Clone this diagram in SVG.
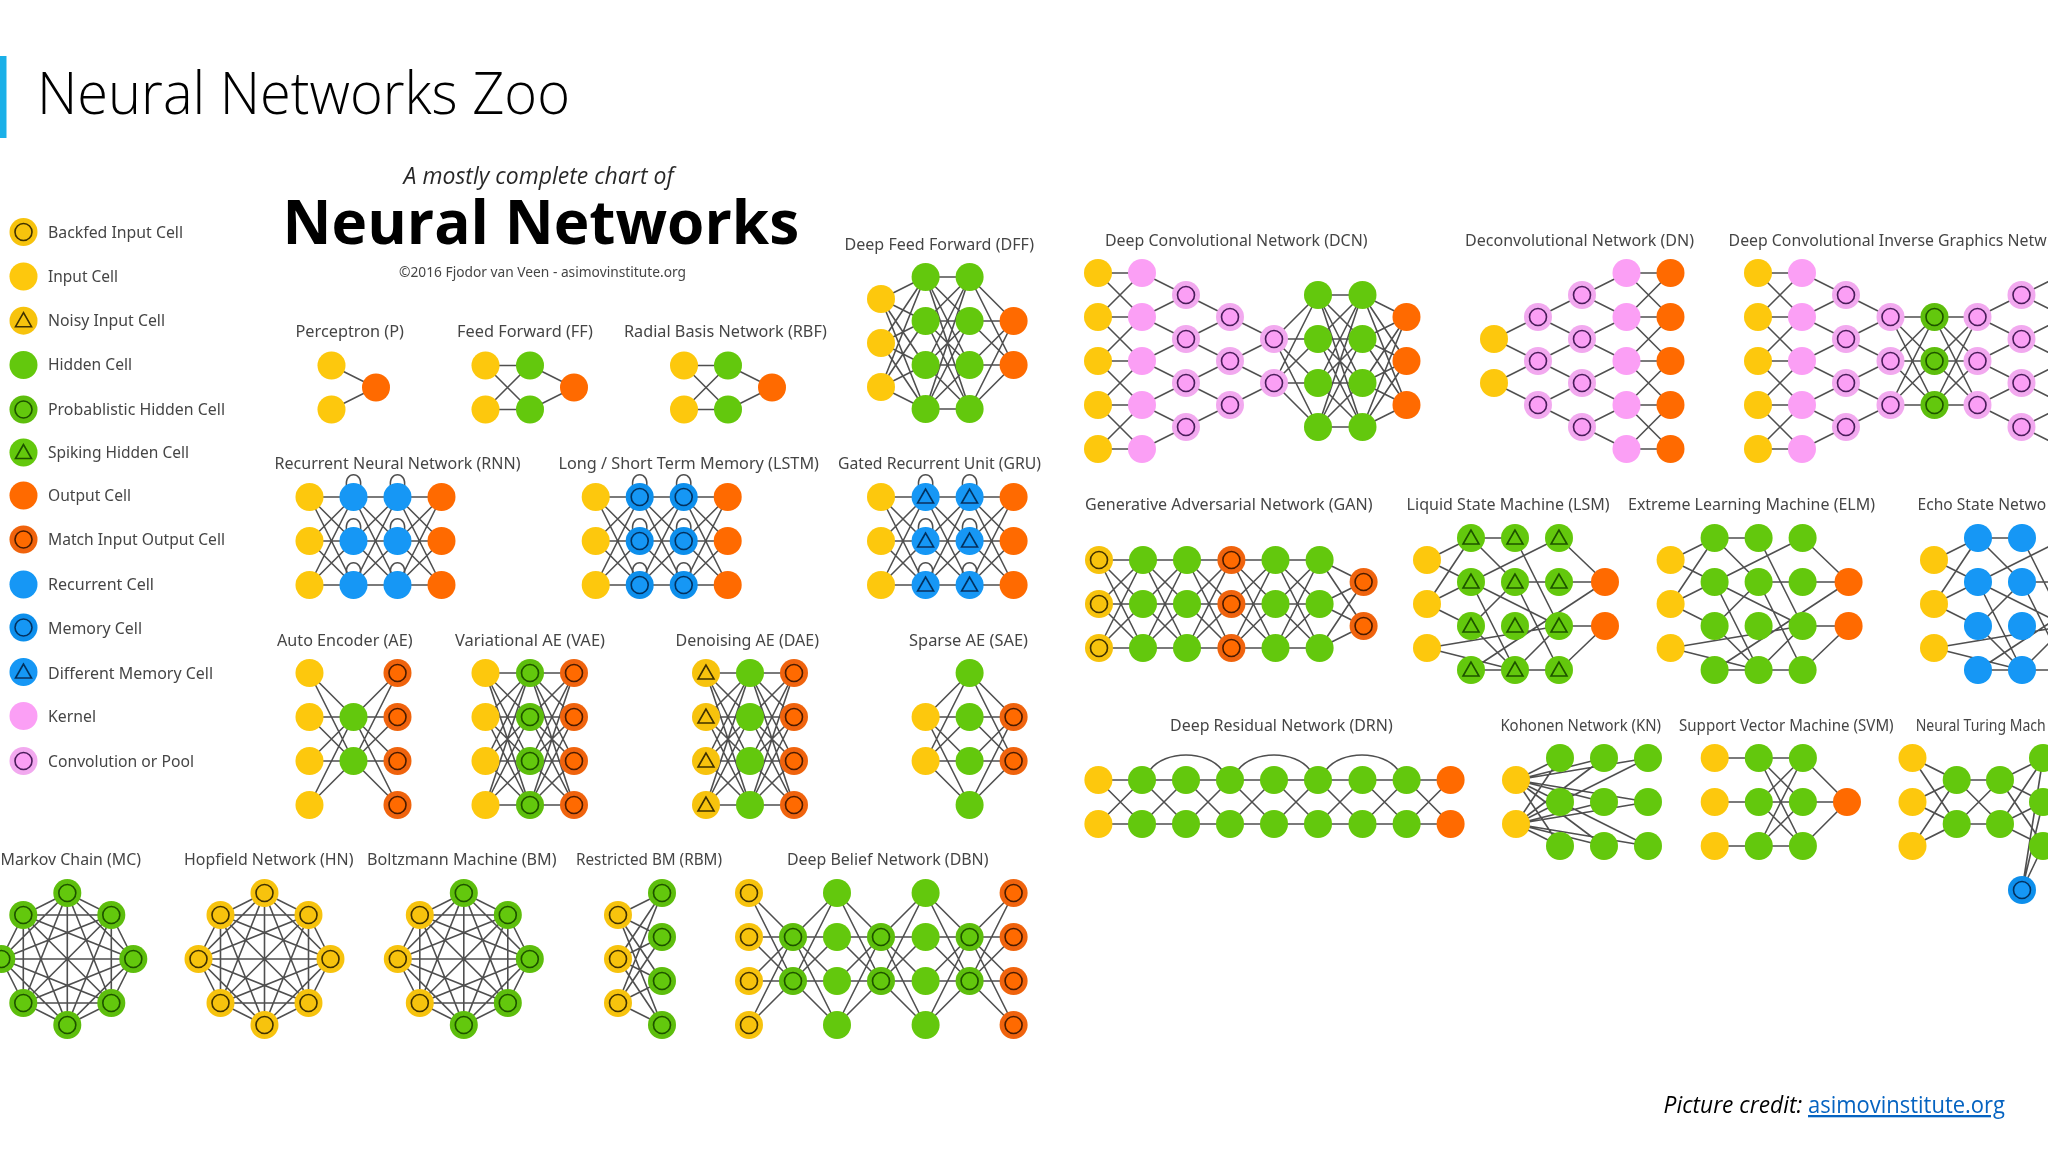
<svg xmlns="http://www.w3.org/2000/svg" width="2048" height="1152" viewBox="0 0 2048 1152">
<style>
.t{font-family:"Noto Sans",sans-serif;font-size:16.4px;fill:#454545}
.h{font-family:"Open Sans","Noto Sans",sans-serif;fill:#000}
#connectors{fill:none;stroke:#505050;stroke-width:1.6}
.r{fill:none;stroke-width:1.6}
</style>
<defs>
<filter id="soft" x="0" y="0" width="2048" height="1152" filterUnits="userSpaceOnUse"><feGaussianBlur stdDeviation="0.5"/></filter>
<path id="a2" d="M0 0H44M0 44H44M0 0L44 44M0 44L44 0"/>
<path id="a3" d="M0 0H44M0 44H44M0 88H44M0 0L44 44M0 0L44 88M0 44L44 0M0 44L44 88M0 88L44 0M0 88L44 44"/>
<path id="a4" d="M0 0H44M0 44H44M0 88H44M0 132H44M0 0L44 44M0 0L44 88M0 0L44 132M0 44L44 0M0 44L44 88M0 44L44 132M0 88L44 0M0 88L44 44M0 88L44 132M0 132L44 0M0 132L44 44M0 132L44 88"/>
<path id="c42" d="M0 0L44 44M0 0L44 88M0 44H44M0 44L44 88M0 88L44 44M0 88H44M0 132L44 44M0 132L44 88"/>
<path id="c24" d="M0 44L44 0M0 44H44M0 44L44 88M0 44L44 132M0 88L44 0M0 88L44 44M0 88H44M0 88L44 132"/>
<path id="c34" d="M0 22L44 0M0 22L44 44M0 22L44 88M0 22L44 132M0 66L44 0M0 66L44 44M0 66L44 88M0 66L44 132M0 110L44 0M0 110L44 44M0 110L44 88M0 110L44 132"/>
<path id="c43" d="M0 0L44 22M0 0L44 66M0 0L44 110M0 44L44 22M0 44L44 66M0 44L44 110M0 88L44 22M0 88L44 66M0 88L44 110M0 132L44 22M0 132L44 66M0 132L44 110"/>
<path id="c32" d="M0 0L44 22M0 0L44 66M0 44L44 22M0 44L44 66M0 88L44 22M0 88L44 66"/>
<path id="c23" d="M0 22L44 0M0 22L44 44M0 22L44 88M0 66L44 0M0 66L44 44M0 66L44 88"/>
<path id="v2" d="M0 0L44 22L0 44"/>
<path id="k5" d="M0 0H44M0 44H44M0 88H44M0 132H44M0 176H44M0 0L44 44M0 44L44 0M0 44L44 88M0 88L44 44M0 88L44 132M0 132L44 88M0 132L44 176M0 176L44 132"/>
<path id="z54" d="M0 0L44 22L0 44L44 66L0 88L44 110L0 132L44 154L0 176"/>
<path id="z43" d="M0 0L44 22L0 44L44 66L0 88L44 110L0 132"/>
<path id="z32" d="M0 0L44 22L0 44L44 66L0 88"/>
<path id="s3" d="M0 0L44 44M0 44H44M0 88L44 44"/>
<path id="h3" d="M0 0H44M0 44H44M0 88H44"/>
<path id="k8" d="M0-66L44-44L66 0L44 44L0 66L-44 44L-66 0L-44-44ZM0-66L66 0L0 66L-66 0ZM44-44L44 44L-44 44L-44-44ZM0-66L44 44L-66 0L44-44L0 66L-44-44L66 0L-44 44ZM0-66V66M44-44L-44 44M-66 0H66M44 44L-44-44"/>
<path id="lsm" d="M0 22L44 0M0 22L44 44M0 66L44 0M0 66L44 44M0 66L44 88M0 110L132 88M0 110L88 132M44 0H88M44 0L88 44M44 44L132 0M44 44L88 132M44 44L132 88M88 0L132 88M88 44H132M88 44L132 132M88 44L44 88M44 88L88 132M44 132H88M44 132L178 44M88 132L132 88M88 132H132M132 0L178 44M132 44H178M132 88H178M132 132L178 88"/>
<path id="kn" d="M0 22L44 0M0 22L44 44M0 22L44 88M0 22L88 0M0 22L88 44M0 22L88 88M0 22L132 0M0 22L132 44M0 22L132 88M0 66L44 0M0 66L44 44M0 66L44 88M0 66L88 0M0 66L88 44M0 66L88 88M0 66L132 0M0 66L132 44M0 66L132 88"/>
<path id="lp" d="M-7-11C-9-26 9-26 7-11"/>
<g id="loops"><use href="#lp" x="44"/><use href="#lp" x="88"/><use href="#lp" x="44" y="44"/><use href="#lp" x="88" y="44"/><use href="#lp" x="44" y="88"/><use href="#lp" x="88" y="88"/></g>
<circle id="y" r="14" fill="#FDC809"/>
<circle id="g" r="14" fill="#64C808"/>
<circle id="o" r="14" fill="#FF6A06"/>
<circle id="b" r="14" fill="#1297F5"/>
<circle id="p" r="14" fill="#FB9FF5"/>
<g id="yc"><circle r="14" fill="#F7C311"/><circle r="8.5" class="r" stroke="#3f3000"/></g>
<g id="yt"><circle r="14" fill="#F7C311"/><path d="M0-8L-8 6H8Z" class="r" stroke="#3f3000"/></g>
<g id="gc"><circle r="14" fill="#5DBE08"/><circle r="8.5" fill="#64C808" stroke="#1c5200" stroke-width="1.6"/></g>
<g id="gt"><circle r="14" fill="#64C808"/><path d="M0-8L-8 6H8Z" class="r" stroke="#1c5200"/></g>
<g id="oc"><circle r="14" fill="#F0640A"/><circle r="8.5" fill="#FF6A06" stroke="#4a1a00" stroke-width="1.6"/></g>
<g id="bc"><circle r="14" fill="#0E8FEC"/><circle r="8.5" fill="#1297F5" stroke="#06305e" stroke-width="1.6"/></g>
<g id="bt"><circle r="14" fill="#1297F5"/><path d="M0-8L-8 6H8Z" class="r" stroke="#06305e"/></g>
<g id="pc"><circle r="14" fill="#F2A9EF"/><circle r="8.5" fill="#FB9FF5" stroke="#4a1a5a" stroke-width="1.6"/></g>
</defs>
<rect width="2048" height="1152" fill="#fff"/>
<rect id="accent" x="0" y="56" width="6.5" height="82" fill="#1AB0E8"/>
<g id="chart" filter="url(#soft)">
<g id="connectors">
<use href="#v2" x="331.5" y="365.5"/>
<use href="#a2" x="485.5" y="365.5"/><use href="#v2" x="530" y="365.5"/>
<use href="#a2" x="684" y="365.5"/><use href="#v2" x="728" y="365.5"/>
<use href="#c34" x="881" y="277"/><use href="#a4" x="925.6" y="277"/><use href="#c42" x="969.6" y="277"/>
<use href="#a3" x="309.5" y="497"/><use href="#a3" x="353.5" y="497"/><use href="#a3" x="397.5" y="497"/><use href="#loops" x="309.5" y="497"/>
<use href="#a3" x="595.7" y="497"/><use href="#a3" x="639.7" y="497"/><use href="#a3" x="683.7" y="497"/><use href="#loops" x="595.7" y="497"/>
<use href="#a3" x="881" y="497"/><use href="#a3" x="925.6" y="497"/><use href="#a3" x="969.6" y="497"/><use href="#loops" x="881.6" y="497"/>
<use href="#c42" x="309.5" y="673"/><use href="#c24" x="353.5" y="673"/>
<use href="#a4" x="485.5" y="673"/><use href="#a4" x="530" y="673"/>
<use href="#a4" x="706" y="673"/><use href="#a4" x="750" y="673"/>
<use href="#c24" x="925.6" y="673"/><use href="#c42" x="969.6" y="673"/>
<use href="#k8" x="67.3" y="959"/><use href="#k8" x="264.5" y="959"/><use href="#k8" x="463.8" y="959"/>
<use href="#c34" x="618" y="893"/>
<use href="#c42" x="749" y="893"/><use href="#c24" x="793" y="893"/><use href="#c42" x="837" y="893"/><use href="#c24" x="881" y="893"/><use href="#c42" x="925.6" y="893"/><use href="#c24" x="969.6" y="893"/>
<use href="#k5" x="1098" y="273"/><use href="#z54" x="1142" y="273"/><use href="#z43" x="1186" y="295"/><use href="#z32" x="1230" y="317"/><use href="#c24" x="1274" y="295"/><use href="#a4" x="1318" y="295"/><use href="#c43" x="1362.5" y="295"/>
<use href="#z32" transform="translate(1538,317) scale(-1,1)"/><use href="#z43" transform="translate(1582,295) scale(-1,1)"/><use href="#z54" transform="translate(1626.5,273) scale(-1,1)"/><use href="#k5" x="1626.5" y="273"/>
<use href="#k5" x="1758" y="273"/><use href="#z54" x="1802" y="273"/><use href="#z43" x="1846" y="295"/><use href="#a3" x="1890.5" y="317"/><use href="#a3" x="1934" y="317"/><use href="#z43" transform="translate(2021.5,295) scale(-1,1)"/><use href="#z54" transform="translate(2065.5,273) scale(-1,1)"/>
<use href="#a3" x="1099" y="560"/><use href="#a3" x="1143" y="560"/><use href="#a3" x="1187" y="560"/><use href="#a3" x="1231.4" y="560"/><use href="#a3" x="1275.5" y="560"/><use href="#c32" x="1319.6" y="560"/>
<use href="#lsm" x="1427" y="538"/><use href="#lsm" x="1670.6" y="538"/><use href="#lsm" x="1934" y="538"/>
<use href="#a2" x="1098.4" y="780"/><use href="#a2" x="1142" y="780"/><use href="#a2" x="1186" y="780"/><use href="#a2" x="1230" y="780"/><use href="#a2" x="1274" y="780"/><use href="#a2" x="1318" y="780"/><use href="#a2" x="1362.5" y="780"/><use href="#a2" x="1406.6" y="780"/>
<path d="M1150 770C1165 750 1207 750 1222 770M1238 770C1253 750 1295 750 1310 770M1326 770C1341 750 1383 750 1398 770"/>
<use href="#kn" x="1516" y="758"/>
<use href="#h3" x="1714.7" y="758"/><use href="#a3" x="1758.8" y="758"/><use href="#s3" x="1802.9" y="758"/>
<use href="#c32" x="1912.5" y="758"/><use href="#a2" x="1956.7" y="780"/><use href="#c23" x="2000" y="758"/>
<path d="M2022 890L2043 758M2022 890L2043 802M2022 890L2043 846"/>
</g>

<g id="legend">
<use href="#yc" x="23.5" y="232"/><use href="#y" x="23.5" y="276.5"/><use href="#yt" x="23.5" y="320.7"/><use href="#g" x="23.5" y="365"/><use href="#gc" x="23.5" y="409.5"/><use href="#gt" x="23.5" y="452.5"/><use href="#o" x="23.5" y="495.5"/><use href="#oc" x="23.5" y="539.5"/><use href="#b" x="23.5" y="584.5"/><use href="#bc" x="23.5" y="627.5"/><use href="#bt" x="23.5" y="672"/><use href="#p" x="23.5" y="716"/><use href="#pc" x="23.5" y="761"/>
</g>
<g id="P"><use href="#y" x="331.5" y="365.5"/><use href="#y" x="331.5" y="409.5"/><use href="#o" x="376" y="387.5"/></g>
<g id="FF"><use href="#y" x="485.5" y="365.5"/><use href="#y" x="485.5" y="409.5"/><use href="#g" x="530" y="365.5"/><use href="#g" x="530" y="409.5"/><use href="#o" x="574" y="387.5"/></g>
<g id="RBF"><use href="#y" x="684" y="365.5"/><use href="#y" x="684" y="409.5"/><use href="#g" x="728" y="365.5"/><use href="#g" x="728" y="409.5"/><use href="#o" x="772" y="387.5"/></g>
<g id="DFF"><use href="#y" x="881" y="299"/><use href="#y" x="881" y="343"/><use href="#y" x="881" y="387"/><use href="#g" x="925.6" y="277"/><use href="#g" x="925.6" y="321"/><use href="#g" x="925.6" y="365"/><use href="#g" x="925.6" y="409"/><use href="#g" x="969.6" y="277"/><use href="#g" x="969.6" y="321"/><use href="#g" x="969.6" y="365"/><use href="#g" x="969.6" y="409"/><use href="#o" x="1013.6" y="321"/><use href="#o" x="1013.6" y="365"/></g>
<g id="RNN"><use href="#y" x="309.5" y="497"/><use href="#y" x="309.5" y="541"/><use href="#y" x="309.5" y="585"/><use href="#b" x="353.5" y="497"/><use href="#b" x="353.5" y="541"/><use href="#b" x="353.5" y="585"/><use href="#b" x="397.5" y="497"/><use href="#b" x="397.5" y="541"/><use href="#b" x="397.5" y="585"/><use href="#o" x="441.5" y="497"/><use href="#o" x="441.5" y="541"/><use href="#o" x="441.5" y="585"/></g>
<g id="LSTM"><use href="#y" x="595.7" y="497"/><use href="#y" x="595.7" y="541"/><use href="#y" x="595.7" y="585"/><use href="#bc" x="639.7" y="497"/><use href="#bc" x="639.7" y="541"/><use href="#bc" x="639.7" y="585"/><use href="#bc" x="683.7" y="497"/><use href="#bc" x="683.7" y="541"/><use href="#bc" x="683.7" y="585"/><use href="#o" x="727.7" y="497"/><use href="#o" x="727.7" y="541"/><use href="#o" x="727.7" y="585"/></g>
<g id="GRU"><use href="#y" x="881" y="497"/><use href="#y" x="881" y="541"/><use href="#y" x="881" y="585"/><use href="#bt" x="925.6" y="497"/><use href="#bt" x="925.6" y="541"/><use href="#bt" x="925.6" y="585"/><use href="#bt" x="969.6" y="497"/><use href="#bt" x="969.6" y="541"/><use href="#bt" x="969.6" y="585"/><use href="#o" x="1013.6" y="497"/><use href="#o" x="1013.6" y="541"/><use href="#o" x="1013.6" y="585"/></g>
<g id="AE"><use href="#y" x="309.5" y="673"/><use href="#y" x="309.5" y="717"/><use href="#y" x="309.5" y="761"/><use href="#y" x="309.5" y="805"/><use href="#g" x="353.5" y="717"/><use href="#g" x="353.5" y="761"/><use href="#oc" x="397.5" y="673"/><use href="#oc" x="397.5" y="717"/><use href="#oc" x="397.5" y="761"/><use href="#oc" x="397.5" y="805"/></g>
<g id="VAE"><use href="#y" x="485.5" y="673"/><use href="#y" x="485.5" y="717"/><use href="#y" x="485.5" y="761"/><use href="#y" x="485.5" y="805"/><use href="#gc" x="530" y="673"/><use href="#gc" x="530" y="717"/><use href="#gc" x="530" y="761"/><use href="#gc" x="530" y="805"/><use href="#oc" x="574" y="673"/><use href="#oc" x="574" y="717"/><use href="#oc" x="574" y="761"/><use href="#oc" x="574" y="805"/></g>
<g id="DAE"><use href="#yt" x="706" y="673"/><use href="#yt" x="706" y="717"/><use href="#yt" x="706" y="761"/><use href="#yt" x="706" y="805"/><use href="#g" x="750" y="673"/><use href="#g" x="750" y="717"/><use href="#g" x="750" y="761"/><use href="#g" x="750" y="805"/><use href="#oc" x="794" y="673"/><use href="#oc" x="794" y="717"/><use href="#oc" x="794" y="761"/><use href="#oc" x="794" y="805"/></g>
<g id="SAE"><use href="#y" x="925.6" y="717"/><use href="#y" x="925.6" y="761"/><use href="#g" x="969.6" y="673"/><use href="#g" x="969.6" y="717"/><use href="#g" x="969.6" y="761"/><use href="#g" x="969.6" y="805"/><use href="#oc" x="1013.6" y="717"/><use href="#oc" x="1013.6" y="761"/></g>
<g id="MC"><use href="#gc" x="67.3" y="893"/><use href="#gc" x="23.3" y="915"/><use href="#gc" x="111.3" y="915"/><use href="#gc" x="1.3" y="959"/><use href="#gc" x="133.3" y="959"/><use href="#gc" x="23.3" y="1003"/><use href="#gc" x="111.3" y="1003"/><use href="#gc" x="67.3" y="1025"/></g>
<g id="HN"><use href="#yc" x="264.5" y="893"/><use href="#yc" x="220.5" y="915"/><use href="#yc" x="308.5" y="915"/><use href="#yc" x="198.5" y="959"/><use href="#yc" x="330.5" y="959"/><use href="#yc" x="220.5" y="1003"/><use href="#yc" x="308.5" y="1003"/><use href="#yc" x="264.5" y="1025"/></g>
<g id="BM"><use href="#gc" x="463.8" y="893"/><use href="#yc" x="419.8" y="915"/><use href="#gc" x="507.8" y="915"/><use href="#yc" x="397.8" y="959"/><use href="#gc" x="529.8" y="959"/><use href="#yc" x="419.8" y="1003"/><use href="#gc" x="507.8" y="1003"/><use href="#gc" x="463.8" y="1025"/></g>
<g id="RBM"><use href="#yc" x="618" y="915"/><use href="#yc" x="618" y="959"/><use href="#yc" x="618" y="1003"/><use href="#gc" x="662" y="893"/><use href="#gc" x="662" y="937"/><use href="#gc" x="662" y="981"/><use href="#gc" x="662" y="1025"/></g>
<g id="DBN"><use href="#yc" x="749" y="893"/><use href="#yc" x="749" y="937"/><use href="#yc" x="749" y="981"/><use href="#yc" x="749" y="1025"/><use href="#gc" x="793" y="937"/><use href="#gc" x="793" y="981"/><use href="#g" x="837" y="893"/><use href="#g" x="837" y="937"/><use href="#g" x="837" y="981"/><use href="#g" x="837" y="1025"/><use href="#gc" x="881" y="937"/><use href="#gc" x="881" y="981"/><use href="#g" x="925.6" y="893"/><use href="#g" x="925.6" y="937"/><use href="#g" x="925.6" y="981"/><use href="#g" x="925.6" y="1025"/><use href="#gc" x="969.6" y="937"/><use href="#gc" x="969.6" y="981"/><use href="#oc" x="1013.6" y="893"/><use href="#oc" x="1013.6" y="937"/><use href="#oc" x="1013.6" y="981"/><use href="#oc" x="1013.6" y="1025"/></g>
<g id="DCN"><use href="#y" x="1098" y="273"/><use href="#y" x="1098" y="317"/><use href="#y" x="1098" y="361"/><use href="#y" x="1098" y="405"/><use href="#y" x="1098" y="449"/><use href="#p" x="1142" y="273"/><use href="#p" x="1142" y="317"/><use href="#p" x="1142" y="361"/><use href="#p" x="1142" y="405"/><use href="#p" x="1142" y="449"/><use href="#pc" x="1186" y="295"/><use href="#pc" x="1186" y="339"/><use href="#pc" x="1186" y="383"/><use href="#pc" x="1186" y="427"/><use href="#pc" x="1230" y="317"/><use href="#pc" x="1230" y="361"/><use href="#pc" x="1230" y="405"/><use href="#pc" x="1274" y="339"/><use href="#pc" x="1274" y="383"/><use href="#g" x="1318" y="295"/><use href="#g" x="1318" y="339"/><use href="#g" x="1318" y="383"/><use href="#g" x="1318" y="427"/><use href="#g" x="1362.5" y="295"/><use href="#g" x="1362.5" y="339"/><use href="#g" x="1362.5" y="383"/><use href="#g" x="1362.5" y="427"/><use href="#o" x="1406.5" y="317"/><use href="#o" x="1406.5" y="361"/><use href="#o" x="1406.5" y="405"/></g>
<g id="DN"><use href="#y" x="1494" y="339"/><use href="#y" x="1494" y="383"/><use href="#pc" x="1538" y="317"/><use href="#pc" x="1538" y="361"/><use href="#pc" x="1538" y="405"/><use href="#pc" x="1582" y="295"/><use href="#pc" x="1582" y="339"/><use href="#pc" x="1582" y="383"/><use href="#pc" x="1582" y="427"/><use href="#p" x="1626.5" y="273"/><use href="#p" x="1626.5" y="317"/><use href="#p" x="1626.5" y="361"/><use href="#p" x="1626.5" y="405"/><use href="#p" x="1626.5" y="449"/><use href="#o" x="1670.5" y="273"/><use href="#o" x="1670.5" y="317"/><use href="#o" x="1670.5" y="361"/><use href="#o" x="1670.5" y="405"/><use href="#o" x="1670.5" y="449"/></g>
<g id="DCIGN"><use href="#y" x="1758" y="273"/><use href="#y" x="1758" y="317"/><use href="#y" x="1758" y="361"/><use href="#y" x="1758" y="405"/><use href="#y" x="1758" y="449"/><use href="#p" x="1802" y="273"/><use href="#p" x="1802" y="317"/><use href="#p" x="1802" y="361"/><use href="#p" x="1802" y="405"/><use href="#p" x="1802" y="449"/><use href="#pc" x="1846" y="295"/><use href="#pc" x="1846" y="339"/><use href="#pc" x="1846" y="383"/><use href="#pc" x="1846" y="427"/><use href="#pc" x="1890.5" y="317"/><use href="#pc" x="1890.5" y="361"/><use href="#pc" x="1890.5" y="405"/><use href="#gc" x="1934.5" y="317"/><use href="#gc" x="1934.5" y="361"/><use href="#gc" x="1934.5" y="405"/><use href="#pc" x="1977.5" y="317"/><use href="#pc" x="1977.5" y="361"/><use href="#pc" x="1977.5" y="405"/><use href="#pc" x="2021.5" y="295"/><use href="#pc" x="2021.5" y="339"/><use href="#pc" x="2021.5" y="383"/><use href="#pc" x="2021.5" y="427"/></g>
<g id="GAN"><use href="#yc" x="1099" y="560"/><use href="#yc" x="1099" y="604"/><use href="#yc" x="1099" y="648"/><use href="#g" x="1143" y="560"/><use href="#g" x="1143" y="604"/><use href="#g" x="1143" y="648"/><use href="#g" x="1187" y="560"/><use href="#g" x="1187" y="604"/><use href="#g" x="1187" y="648"/><use href="#oc" x="1231.4" y="560"/><use href="#oc" x="1231.4" y="604"/><use href="#oc" x="1231.4" y="648"/><use href="#g" x="1275.5" y="560"/><use href="#g" x="1275.5" y="604"/><use href="#g" x="1275.5" y="648"/><use href="#g" x="1319.6" y="560"/><use href="#g" x="1319.6" y="604"/><use href="#g" x="1319.6" y="648"/><use href="#oc" x="1363.6" y="582"/><use href="#oc" x="1363.6" y="626"/></g>
<g id="LSM"><use href="#y" x="1427" y="560"/><use href="#y" x="1427" y="604"/><use href="#y" x="1427" y="648"/><use href="#gt" x="1471" y="538"/><use href="#gt" x="1471" y="582"/><use href="#gt" x="1471" y="626"/><use href="#gt" x="1471" y="670"/><use href="#gt" x="1515" y="538"/><use href="#gt" x="1515" y="582"/><use href="#gt" x="1515" y="626"/><use href="#gt" x="1515" y="670"/><use href="#gt" x="1559" y="538"/><use href="#gt" x="1559" y="582"/><use href="#gt" x="1559" y="626"/><use href="#gt" x="1559" y="670"/><use href="#o" x="1605" y="582"/><use href="#o" x="1605" y="626"/></g>
<g id="ELM"><use href="#y" x="1670.6" y="560"/><use href="#y" x="1670.6" y="604"/><use href="#y" x="1670.6" y="648"/><use href="#g" x="1714.6" y="538"/><use href="#g" x="1714.6" y="582"/><use href="#g" x="1714.6" y="626"/><use href="#g" x="1714.6" y="670"/><use href="#g" x="1758.6" y="538"/><use href="#g" x="1758.6" y="582"/><use href="#g" x="1758.6" y="626"/><use href="#g" x="1758.6" y="670"/><use href="#g" x="1802.6" y="538"/><use href="#g" x="1802.6" y="582"/><use href="#g" x="1802.6" y="626"/><use href="#g" x="1802.6" y="670"/><use href="#o" x="1848.6" y="582"/><use href="#o" x="1848.6" y="626"/></g>
<g id="ESN"><use href="#y" x="1934" y="560"/><use href="#y" x="1934" y="604"/><use href="#y" x="1934" y="648"/><use href="#b" x="1978" y="538"/><use href="#b" x="1978" y="582"/><use href="#b" x="1978" y="626"/><use href="#b" x="1978" y="670"/><use href="#b" x="2022" y="538"/><use href="#b" x="2022" y="582"/><use href="#b" x="2022" y="626"/><use href="#b" x="2022" y="670"/></g>
<g id="DRN"><use href="#y" x="1098.4" y="780"/><use href="#y" x="1098.4" y="824"/><use href="#g" x="1142" y="780"/><use href="#g" x="1142" y="824"/><use href="#g" x="1186" y="780"/><use href="#g" x="1186" y="824"/><use href="#g" x="1230" y="780"/><use href="#g" x="1230" y="824"/><use href="#g" x="1274" y="780"/><use href="#g" x="1274" y="824"/><use href="#g" x="1318" y="780"/><use href="#g" x="1318" y="824"/><use href="#g" x="1362.5" y="780"/><use href="#g" x="1362.5" y="824"/><use href="#g" x="1406.6" y="780"/><use href="#g" x="1406.6" y="824"/><use href="#o" x="1450.6" y="780"/><use href="#o" x="1450.6" y="824"/></g>
<g id="KN"><use href="#y" x="1516" y="780"/><use href="#y" x="1516" y="824"/><use href="#g" x="1560" y="758"/><use href="#g" x="1560" y="802"/><use href="#g" x="1560" y="846"/><use href="#g" x="1604" y="758"/><use href="#g" x="1604" y="802"/><use href="#g" x="1604" y="846"/><use href="#g" x="1648" y="758"/><use href="#g" x="1648" y="802"/><use href="#g" x="1648" y="846"/></g>
<g id="SVM"><use href="#y" x="1714.7" y="758"/><use href="#y" x="1714.7" y="802"/><use href="#y" x="1714.7" y="846"/><use href="#g" x="1758.8" y="758"/><use href="#g" x="1758.8" y="802"/><use href="#g" x="1758.8" y="846"/><use href="#g" x="1802.9" y="758"/><use href="#g" x="1802.9" y="802"/><use href="#g" x="1802.9" y="846"/><use href="#o" x="1847" y="802"/></g>
<g id="NTM"><use href="#y" x="1912.5" y="758"/><use href="#y" x="1912.5" y="802"/><use href="#y" x="1912.5" y="846"/><use href="#g" x="1956.7" y="780"/><use href="#g" x="1956.7" y="824"/><use href="#g" x="2000" y="780"/><use href="#g" x="2000" y="824"/><use href="#g" x="2043" y="758"/><use href="#g" x="2043" y="802"/><use href="#g" x="2043" y="846"/><use href="#bc" x="2022" y="890"/></g>

<g id="labels">
<text class="t" x="48" y="238" textLength="135" lengthAdjust="spacingAndGlyphs">Backfed Input Cell</text>
<text class="t" x="48" y="281.5" textLength="70" lengthAdjust="spacingAndGlyphs">Input Cell</text>
<text class="t" x="48" y="325.7" textLength="117" lengthAdjust="spacingAndGlyphs">Noisy Input Cell</text>
<text class="t" x="48" y="370" textLength="84" lengthAdjust="spacingAndGlyphs">Hidden Cell</text>
<text class="t" x="48" y="414.5" textLength="177" lengthAdjust="spacingAndGlyphs">Probablistic Hidden Cell</text>
<text class="t" x="48" y="457.5" textLength="141" lengthAdjust="spacingAndGlyphs">Spiking Hidden Cell</text>
<text class="t" x="48" y="500.5" textLength="83" lengthAdjust="spacingAndGlyphs">Output Cell</text>
<text class="t" x="48" y="544.5" textLength="177" lengthAdjust="spacingAndGlyphs">Match Input Output Cell</text>
<text class="t" x="48" y="589.5" textLength="106" lengthAdjust="spacingAndGlyphs">Recurrent Cell</text>
<text class="t" x="48" y="634" textLength="94" lengthAdjust="spacingAndGlyphs">Memory Cell</text>
<text class="t" x="48" y="679" textLength="165" lengthAdjust="spacingAndGlyphs">Different Memory Cell</text>
<text class="t" x="48" y="722" textLength="48" lengthAdjust="spacingAndGlyphs">Kernel</text>
<text class="t" x="48" y="767" textLength="146" lengthAdjust="spacingAndGlyphs">Convolution or Pool</text>
<text class="t" x="295.5" y="337" textLength="108.5" lengthAdjust="spacingAndGlyphs">Perceptron (P)</text>
<text class="t" x="457" y="337" textLength="136" lengthAdjust="spacingAndGlyphs">Feed Forward (FF)</text>
<text class="t" x="624" y="337" textLength="203" lengthAdjust="spacingAndGlyphs">Radial Basis Network (RBF)</text>
<text class="t" x="844.5" y="250" textLength="189.5" lengthAdjust="spacingAndGlyphs">Deep Feed Forward (DFF)</text>
<text class="t" x="274.5" y="469.3" textLength="246" lengthAdjust="spacingAndGlyphs">Recurrent Neural Network (RNN)</text>
<text class="t" x="558.5" y="469.3" textLength="260.5" lengthAdjust="spacingAndGlyphs">Long / Short Term Memory (LSTM)</text>
<text class="t" x="838" y="469.3" textLength="203" lengthAdjust="spacingAndGlyphs">Gated Recurrent Unit (GRU)</text>
<text class="t" x="277" y="645.5" textLength="135.5" lengthAdjust="spacingAndGlyphs">Auto Encoder (AE)</text>
<text class="t" x="455" y="645.5" textLength="150" lengthAdjust="spacingAndGlyphs">Variational AE (VAE)</text>
<text class="t" x="675.5" y="645.5" textLength="143.5" lengthAdjust="spacingAndGlyphs">Denoising AE (DAE)</text>
<text class="t" x="909" y="645.5" textLength="119" lengthAdjust="spacingAndGlyphs">Sparse AE (SAE)</text>
<text class="t" x="0.5" y="864.5" textLength="140.5" lengthAdjust="spacingAndGlyphs">Markov Chain (MC)</text>
<text class="t" x="184" y="864.5" textLength="169.5" lengthAdjust="spacingAndGlyphs">Hopfield Network (HN)</text>
<text class="t" x="367" y="864.5" textLength="189.5" lengthAdjust="spacingAndGlyphs">Boltzmann Machine (BM)</text>
<text class="t" x="576" y="864.5" textLength="146" lengthAdjust="spacingAndGlyphs">Restricted BM (RBM)</text>
<text class="t" x="787" y="864.5" textLength="201.5" lengthAdjust="spacingAndGlyphs">Deep Belief Network (DBN)</text>
<text class="t" x="1105" y="245.7" textLength="262.5" lengthAdjust="spacingAndGlyphs">Deep Convolutional Network (DCN)</text>
<text class="t" x="1465" y="245.7" textLength="229" lengthAdjust="spacingAndGlyphs">Deconvolutional Network (DN)</text>
<text class="t" x="1728.6" y="245.7" textLength="318" lengthAdjust="spacingAndGlyphs">Deep Convolutional Inverse Graphics Netw</text>
<text class="t" x="1085" y="509.7" textLength="287.5" lengthAdjust="spacingAndGlyphs">Generative Adversarial Network (GAN)</text>
<text class="t" x="1406.6" y="509.7" textLength="203" lengthAdjust="spacingAndGlyphs">Liquid State Machine (LSM)</text>
<text class="t" x="1628" y="509.7" textLength="247" lengthAdjust="spacingAndGlyphs">Extreme Learning Machine (ELM)</text>
<text class="t" x="1917.6" y="509.7" textLength="128.5" lengthAdjust="spacingAndGlyphs">Echo State Netwo</text>
<text class="t" x="1170" y="731" textLength="222.7" lengthAdjust="spacingAndGlyphs">Deep Residual Network (DRN)</text>
<text class="t" x="1500.4" y="731" textLength="160.6" lengthAdjust="spacingAndGlyphs">Kohonen Network (KN)</text>
<text class="t" x="1679" y="731" textLength="214.6" lengthAdjust="spacingAndGlyphs">Support Vector Machine (SVM)</text>
<text class="t" x="1915.7" y="731" textLength="130" lengthAdjust="spacingAndGlyphs">Neural Turing Mach</text>
</g>
<g id="heading">
<text class="h" x="403.6" y="183.5" font-size="23" font-style="italic" fill-opacity=".85" textLength="270" lengthAdjust="spacingAndGlyphs">A mostly complete chart of</text>
<text class="h" x="282.6" y="243.8" font-size="61" font-weight="700" textLength="516.5" lengthAdjust="spacingAndGlyphs">Neural Networks</text>
<text class="t" x="399" y="277" style="font-size:14px" textLength="287" lengthAdjust="spacingAndGlyphs">©2016 Fjodor van Veen - asimovinstitute.org</text>
</g>
</g>
<text id="title" class="h" x="37" y="114" font-size="59" font-weight="300" textLength="533" lengthAdjust="spacingAndGlyphs">Neural Networks Zoo</text>
<g id="credit">
<text class="h" x="1663.6" y="1113" font-size="23" font-style="italic" textLength="138.5" lengthAdjust="spacingAndGlyphs">Picture credit:</text>
<text class="h" x="1808" y="1113" font-size="23" style="fill:#0563C1" text-decoration="underline" textLength="197" lengthAdjust="spacingAndGlyphs">asimovinstitute.org</text>
</g>
</svg>
